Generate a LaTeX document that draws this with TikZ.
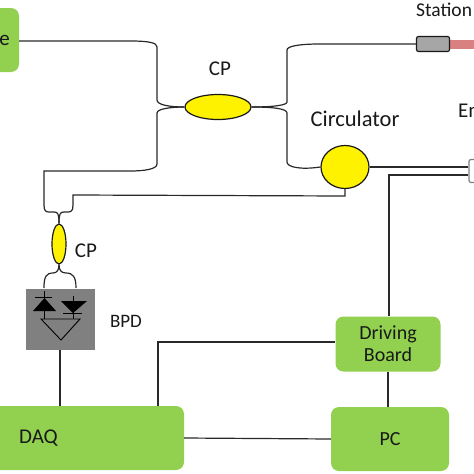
\documentclass[tikz,border=0pt]{standalone}
\usepackage{fontspec}
\setmainfont{Carlito}
\usetikzlibrary{positioning, calc, shapes.geometric}
\definecolor{LeafGreen}{rgb}{0.57, 0.82, 0.31}
\definecolor{DarkLine}{rgb}{0.16, 0.16, 0.16}
\definecolor{DetectorGray}{rgb}{0.5, 0.5, 0.5}
\definecolor{FiberPink}{rgb}{0.85, 0.5, 0.5}

\begin{document}
\begin{tikzpicture}[
    x=1pt, y=-1pt,
    lbl/.style={font=\fontsize{21}{23}\selectfont, inner sep=0pt, text=black!90},
    block/.style={rectangle, rounded corners=8pt, fill=LeafGreen, inner sep=0pt, text=black!90,
        font=\fontsize{20}{23}\selectfont, align=center},
    coupler/.style={ellipse, draw=black!90, line width=1.2pt, fill=yellow, inner sep=0pt},
    wire/.style={DarkLine, line width=1.2pt},
]
\useasboundingbox (0,0) rectangle (474,474);
\clip (0,0) rectangle (474,474);

% ============ blocks ============
\node[block, minimum width=60pt, minimum height=64pt] (source) at (-11,40) {};
\node[lbl] (sourcetext) at (4.5,40) {e};
\node[block, minimum width=204pt, minimum height=64pt] (daq) at (82,438) {};
\node[lbl, anchor=west] (daqtext) at (19,438) {DAQ};
\node[block, minimum width=118pt, minimum height=64pt] (pc) at (390,439) {PC};
\node[block, minimum width=105pt, minimum height=55pt] (board) at (388,344) {Driving\\[-1pt]Board};

% ============ couplers ============
\node[coupler, minimum width=66pt, minimum height=25pt] (cptop) at (218,107) {};
\node[lbl] (cptoplabel) at (220,69) {CP};
\node[coupler, minimum width=14pt, minimum height=40pt] (cpleft) at (59,244) {};
\node[lbl] (cpleftlabel) at (86,251) {CP};
\node[coupler, minimum width=48pt, minimum height=43pt] (circ) at (345,167) {};
\node[lbl, font=\fontsize{22.5}{24}\selectfont] (circlabel) at (355,119) {Circulator};

% ============ station / emitter ============
\node[lbl, anchor=west, font=\fontsize{19.5}{21}\selectfont] (station) at (416,10) {Station};
\node[rectangle, fill=FiberPink, minimum width=30pt, minimum height=9pt, inner sep=0pt] (beam) at (461,44) {};
\node[rectangle, rounded corners=2pt, draw=black!90, line width=1.2pt, fill=black!35,
      minimum width=33pt, minimum height=15pt, inner sep=0pt] (collimator) at (433,44) {};
\node[lbl, anchor=west] (emlabel) at (458,111) {Em};
\node[rectangle, rounded corners=2pt, draw=black!50, line width=1.2pt, fill=white,
      minimum width=14pt, minimum height=23pt, inner sep=0pt] (emitter) at (476,171) {};

% ============ detector ============
\node[rectangle, fill=DetectorGray, minimum width=69pt, minimum height=61pt, inner sep=0pt] (bpd) at (60,319) {};
\node[lbl, font=\fontsize{19}{21}\selectfont] (bpdlabel) at (126,321) {BPD};
\fill (33,311) -- (56,311) -- (44.5,298) -- cycle;
\draw[line width=0.9pt] (35,297) -- (52,297) (44,291) -- (44,319);
\fill (61,301) -- (87,301) -- (73,313) -- cycle;
\draw[line width=0.9pt] (63,313) -- (82,313) (73,296) -- (73,319);
\draw[line width=0.9pt] (41,319) -- (80,319) -- (61,340) -- cycle;

% ============ fibers ============
\draw[wire] (source.east |- 0,41) -- (130,41) .. controls (150,41) and (157,43) .. (157,47)
    -- (157,100) .. controls (157,105) and (170,107) .. (cptop.west);
\draw[wire] (cptop.west) .. controls (170,107) and (157,109) .. (157,113)
    -- (157,164) .. controls (157,169) and (145,171) .. (130,171) -- (44,171)
    -- (44,205) .. controls (44,211) and (46,212) .. (49,212) -- (54,212)
    .. controls (58,212) and (59,214) .. (cpleft.north);
\draw[wire] (cpleft.north) .. controls (59,214) and (60,212) .. (64,212) -- (68,212)
    .. controls (71,212) and (73,211) .. (73,205) -- (73,195) -- (345,196) -- (circ.south);
\draw[wire] (cptop.east) .. controls (275,107) and (287,105) .. (287,102)
    -- (287,50) .. controls (287,46) and (300,44) .. (320,44) -- (collimator.west);
\draw[wire] (cptop.east) .. controls (275,107) and (287,109) .. (287,113)
    -- (287,162) .. controls (287,167) and (300,170) .. (circ.west);
\draw[wire] (circ.east) -- (emitter.west |- 0,167);
\coordinate (boardfeed) at (389,175);
\draw[wire] (emitter.west |- boardfeed) -- (boardfeed) -- (boardfeed |- board.north);
\draw[wire] (cpleft.south) .. controls (59,270) and (57,273) .. (53,273)
    .. controls (46,273) and (44,277) .. (44,288);
\draw[wire] (cpleft.south) .. controls (59,270) and (61,273) .. (66,273)
    .. controls (73,273) and (76,277) .. (76,288);

% ============ electrical ============
\draw[wire] (bpd.south) -- (bpd.south |- daq.north);
\draw[wire] (158,406) -- (158,342) -- (board.west |- 0,342);
\draw[wire] (daq.east) -- (pc.west);
\draw[wire] (board.south) -- (board.south |- pc.north);
\end{tikzpicture}
\end{document}
